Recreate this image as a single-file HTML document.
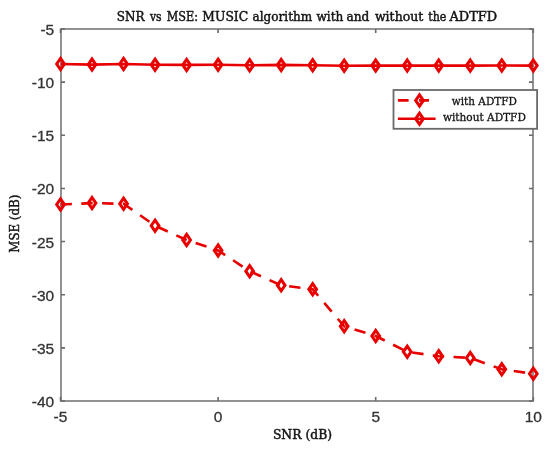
<!DOCTYPE html>
<html><head><meta charset="utf-8"><title>SNR vs MSE</title>
<style>html,body{margin:0;padding:0;background:#fff;width:550px;height:449px;overflow:hidden}svg{display:block;filter:blur(0.35px)}</style>
</head><body>
<svg width="550" height="449" viewBox="0 0 550 449">
<rect width="550" height="449" fill="#fff"/>
<g fill="none" stroke="#929292" stroke-width="2.0">
<rect x="61.0" y="29.0" width="472.0" height="372.0"/>
<path d="M61.0 29.00h4M533.0 29.00h-4M61.0 82.14h4M533.0 82.14h-4M61.0 135.29h4M533.0 135.29h-4M61.0 188.43h4M533.0 188.43h-4M61.0 241.57h4M533.0 241.57h-4M61.0 294.71h4M533.0 294.71h-4M61.0 347.86h4M533.0 347.86h-4M61.0 401.00h4M533.0 401.00h-4M60.52 401.0v-4M60.52 29.0v4M218.11 401.0v-4M218.11 29.0v4M375.70 401.0v-4M375.70 29.0v4M533.29 401.0v-4M533.29 29.0v4" stroke="#6a6a6a" stroke-width="1.6"/>
</g>
<g font-family="Liberation Sans, Arial, sans-serif" font-size="15.5" fill="#333333" stroke="#333333" stroke-width="0.3">
<text x="54.2" y="34.95" text-anchor="end">-5</text>
<text x="54.2" y="88.09" text-anchor="end">-10</text>
<text x="54.2" y="141.24" text-anchor="end">-15</text>
<text x="54.2" y="194.38" text-anchor="end">-20</text>
<text x="54.2" y="247.52" text-anchor="end">-25</text>
<text x="54.2" y="300.66" text-anchor="end">-30</text>
<text x="54.2" y="353.81" text-anchor="end">-35</text>
<text x="54.2" y="406.95" text-anchor="end">-40</text>
<text x="60.52" y="422.4" text-anchor="middle">-5</text>
<text x="218.11" y="422.4" text-anchor="middle">0</text>
<text x="375.70" y="422.4" text-anchor="middle">5</text>
<text x="533.29" y="422.4" text-anchor="middle">10</text>
</g>
<g font-family="DejaVu Serif, serif" fill="#141414" stroke="#141414" stroke-width="0.45" font-size="12.2" lengthAdjust="spacingAndGlyphs">
<text x="116.81" y="20.7" textLength="27.69" lengthAdjust="spacingAndGlyphs">SNR</text>
<text x="150.0" y="20.7" textLength="11.58" lengthAdjust="spacingAndGlyphs">vs</text>
<text x="166.72" y="20.7" textLength="31.35" lengthAdjust="spacingAndGlyphs">MSE:</text>
<text x="202.36" y="20.7" textLength="45.79" lengthAdjust="spacingAndGlyphs">MUSIC</text>
<text x="252.5" y="20.7" textLength="59.8" lengthAdjust="spacingAndGlyphs">algorithm</text>
<text x="316.4" y="20.7" textLength="26.97" lengthAdjust="spacingAndGlyphs">with</text>
<text x="346.43" y="20.7" textLength="22.95" lengthAdjust="spacingAndGlyphs">and</text>
<text x="374.9" y="20.7" textLength="48.5" lengthAdjust="spacingAndGlyphs">without</text>
<text x="428.24" y="20.7" textLength="18.21" lengthAdjust="spacingAndGlyphs">the</text>
<text x="449.5" y="20.7" textLength="47.69" lengthAdjust="spacingAndGlyphs">ADTFD</text>
<text x="272.92" y="438.6" textLength="59.16" lengthAdjust="spacingAndGlyphs">SNR (dB)</text>
<text transform="translate(18.7 252.7) rotate(-90)" x="0" y="0" font-size="12.8" textLength="57.95" lengthAdjust="spacingAndGlyphs">MSE (dB)</text>
</g>
<polyline points="60.52,64.00 92.04,64.60 123.56,64.00 155.07,64.75 186.59,64.90 218.11,64.80 249.63,65.30 281.15,64.90 312.66,65.30 344.18,65.70 375.70,65.60 407.22,65.60 438.74,65.60 470.25,65.60 501.77,65.50 533.29,65.60" fill="none" stroke="#e80000" stroke-width="2.6" stroke-linejoin="round"/>
<g fill="none" stroke="#e80000" stroke-width="3.0" stroke-linejoin="miter">
<path d="M60.52 58.40L64.37 64.00L60.52 69.60L56.67 64.00Z"/>
<path d="M92.04 59.00L95.89 64.60L92.04 70.20L88.19 64.60Z"/>
<path d="M123.56 58.40L127.41 64.00L123.56 69.60L119.71 64.00Z"/>
<path d="M155.07 59.15L158.92 64.75L155.07 70.35L151.22 64.75Z"/>
<path d="M186.59 59.30L190.44 64.90L186.59 70.50L182.74 64.90Z"/>
<path d="M218.11 59.20L221.96 64.80L218.11 70.40L214.26 64.80Z"/>
<path d="M249.63 59.70L253.48 65.30L249.63 70.90L245.78 65.30Z"/>
<path d="M281.15 59.30L285.00 64.90L281.15 70.50L277.30 64.90Z"/>
<path d="M312.66 59.70L316.51 65.30L312.66 70.90L308.81 65.30Z"/>
<path d="M344.18 60.10L348.03 65.70L344.18 71.30L340.33 65.70Z"/>
<path d="M375.70 60.00L379.55 65.60L375.70 71.20L371.85 65.60Z"/>
<path d="M407.22 60.00L411.07 65.60L407.22 71.20L403.37 65.60Z"/>
<path d="M438.74 60.00L442.59 65.60L438.74 71.20L434.89 65.60Z"/>
<path d="M470.25 60.00L474.10 65.60L470.25 71.20L466.40 65.60Z"/>
<path d="M501.77 59.90L505.62 65.50L501.77 71.10L497.92 65.50Z"/>
<path d="M533.29 60.00L537.14 65.60L533.29 71.20L529.44 65.60Z"/>
</g>
<polyline points="60.52,204.50 92.04,203.10 123.56,203.80 155.07,225.70 186.59,240.00 218.11,250.40 249.63,271.20 281.15,285.30 312.66,289.30 344.18,326.30 375.70,336.00 407.22,351.80 438.74,356.30 470.25,357.90 501.77,369.30 533.29,373.80" fill="none" stroke="#e80000" stroke-width="2.6" stroke-dasharray="11.4 9.4" stroke-dashoffset="0"/>
<g fill="none" stroke="#e80000" stroke-width="3.0" stroke-linejoin="miter">
<path d="M60.52 198.90L64.37 204.50L60.52 210.10L56.67 204.50Z"/>
<path d="M92.04 197.50L95.89 203.10L92.04 208.70L88.19 203.10Z"/>
<path d="M123.56 198.20L127.41 203.80L123.56 209.40L119.71 203.80Z"/>
<path d="M155.07 220.10L158.92 225.70L155.07 231.30L151.22 225.70Z"/>
<path d="M186.59 234.40L190.44 240.00L186.59 245.60L182.74 240.00Z"/>
<path d="M218.11 244.80L221.96 250.40L218.11 256.00L214.26 250.40Z"/>
<path d="M249.63 265.60L253.48 271.20L249.63 276.80L245.78 271.20Z"/>
<path d="M281.15 279.70L285.00 285.30L281.15 290.90L277.30 285.30Z"/>
<path d="M312.66 283.70L316.51 289.30L312.66 294.90L308.81 289.30Z"/>
<path d="M344.18 320.70L348.03 326.30L344.18 331.90L340.33 326.30Z"/>
<path d="M375.70 330.40L379.55 336.00L375.70 341.60L371.85 336.00Z"/>
<path d="M407.22 346.20L411.07 351.80L407.22 357.40L403.37 351.80Z"/>
<path d="M438.74 350.70L442.59 356.30L438.74 361.90L434.89 356.30Z"/>
<path d="M470.25 352.30L474.10 357.90L470.25 363.50L466.40 357.90Z"/>
<path d="M501.77 363.70L505.62 369.30L501.77 374.90L497.92 369.30Z"/>
<path d="M533.29 368.20L537.14 373.80L533.29 379.40L529.44 373.80Z"/>
</g>
<rect x="393.5" y="90" width="143.6" height="38.8" fill="#fff" stroke="#6a6a6a" stroke-width="1.8"/>
<path d="M397.9 100.4H408.6M419 100.4H429M397.9 118.7H435.6" stroke="#e80000" stroke-width="2.6" fill="none"/>
<g fill="none" stroke="#e80000" stroke-width="3.0"><path d="M419.50 94.80L423.35 100.40L419.50 106.00L415.65 100.40Z"/><path d="M419.50 113.10L423.35 118.70L419.50 124.30L415.65 118.70Z"/></g>
<g font-family="DejaVu Serif, serif" fill="#141414" stroke="#141414" stroke-width="0.3" font-size="10.5">
<text x="451.8" y="105.4" textLength="65.1" lengthAdjust="spacingAndGlyphs">with ADTFD</text>
<text x="442.9" y="121.2" textLength="83.0" lengthAdjust="spacingAndGlyphs">without ADTFD</text>
</g>
</svg>
</body></html>
